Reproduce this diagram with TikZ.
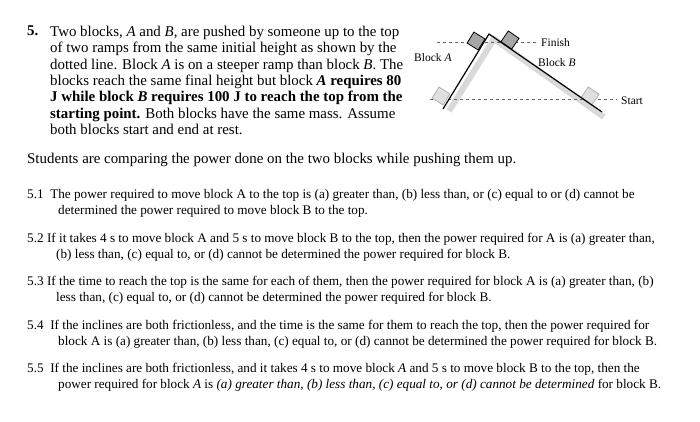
\documentclass[tikz,border=0pt]{standalone}
\usepackage{fontspec}
\setmainfont{Liberation Serif}
\begin{document}
\begin{tikzpicture}[x=1pt,y=-1pt,
 para/.style={anchor=north west,align=left,inner sep=0pt,font=\fontsize{14.9}{16.3}\selectfont},
 item/.style={anchor=north west,align=left,inner sep=0pt,font=\fontsize{13.2}{16}\selectfont},
 lab/.style={anchor=base west,inner sep=0pt,font=\fontsize{11.5}{13}\selectfont},
 guide/.style={dashed,gray!80!black,thin},
 ramp/.style={line width=1.2pt},
 shade/.style={line width=6pt,gray!30},
 blk/.style={draw,line width=0.8pt,minimum size=13pt,inner sep=0pt}]
\useasboundingbox (0,0) rectangle (700,421);
% diagram
\coordinate (L) at (443,109); \coordinate (P) at (489,34); \coordinate (R) at (602,112);
\draw[shade] ([shift={(6,2)}]L) -- ([shift={(5,5)}]P) -- ([shift={(2,5)}]R);
\draw[guide] (437,42) -- (537,42);
\draw[guide] (430,99) -- (617,99);
\node[blk,fill=gray!70,rotate=58.5] (ta) at (476,41) {};
\node[blk,fill=gray!70,rotate=-34.6] (tb) at (510,40) {};
\node[blk,draw=gray!60,fill=gray!25,rotate=58.5] (ba) at (441,96) {};
\node[blk,draw=gray!60,fill=gray!25,rotate=-34.6] (bb) at (590,96) {};
\draw[ramp] (L) -- (P) -- (R);
\node[lab] (fin) at (541,46) {Finish};
\node[lab] (st) at (621,104) {Start};
\node[lab] (la) at (414,61) {Block \textit{A}};
\node[lab] (lb) at (538,66) {Block \textit{B}};
% text
\node[para] (n5) at (27,26) {\textbf{5.}};
\node[para] (p) at (50,26) {Two blocks, \textit{A} and \textit{B}, are pushed by someone up to the top\\
of two ramps from the same initial height as shown by the\\
dotted line. Block \textit{A} is on a steeper ramp than block \textit{B}. The\\
blocks reach the same final height but block \textbf{\textit{A} requires 80}\\
\textbf{J while block \textit{B} requires 100 J to reach the top from the}\\
\textbf{starting point.} Both blocks have the same mass. Assume\\
both blocks start and end at rest.};
\node[para] (stu) at (27,153) {Students are comparing the power done on the two blocks while pushing them up.};
\node[item] (i1) at (27,189) {5.1\enspace The power required to move block A to the top is (a) greater than, (b) less than, or (c) equal to or (d) cannot be\\
\hspace*{31pt}determined the power required to move block B to the top.};
\node[item] (i2) at (27,233) {5.2 If it takes 4 s to move block A and 5 s to move block B to the top, then the power required for A is (a) greater than,\\
\hspace*{29pt}(b) less than, (c) equal to, or (d) cannot be determined the power required for block B.};
\node[item] (i3) at (27,276) {5.3 If the time to reach the top is the same for each of them, then the power required for block A is (a) greater than, (b)\\
\hspace*{29pt}less than, (c) equal to, or (d) cannot be determined the power required for block B.};
\node[item] (i4) at (27,320) {5.4\enspace If the inclines are both frictionless, and the time is the same for them to reach the top, then the power required for\\
\hspace*{31pt}block A is (a) greater than, (b) less than, (c) equal to, or (d) cannot be determined the power required for block B.};
\node[item] (i5) at (27,363) {5.5\enspace If the inclines are both frictionless, and it takes 4 s to move block \textit{A} and 5 s to move block B to the top, then the\\
\hspace*{31pt}power required for block \textit{A} is \textit{(a) greater than, (b) less than, (c) equal to, or (d) cannot be determined} for block B.};
\end{tikzpicture}
\end{document}
